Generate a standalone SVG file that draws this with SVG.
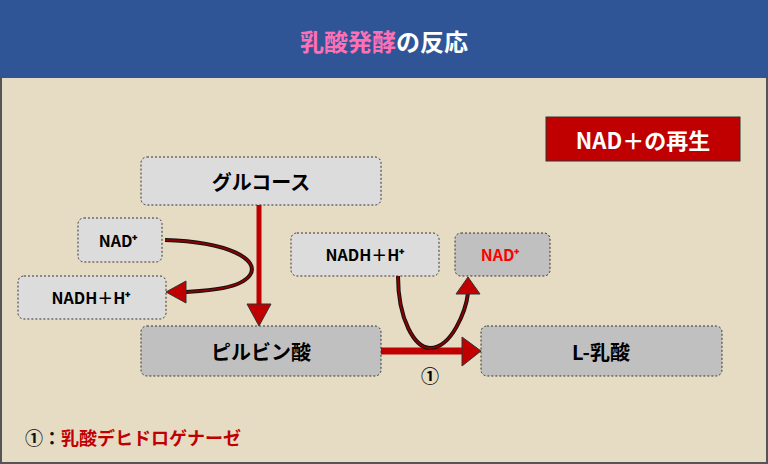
<svg xmlns="http://www.w3.org/2000/svg" width="768" height="464" viewBox="0 0 768 464">
<style>
.n{stroke:#333;stroke-width:1;stroke-dasharray:2 2}
.l{fill:#dcdcdc}.d{fill:#c0c0c0}
text{font-family:"Noto Sans CJK JP","Liberation Sans",sans-serif;font-weight:bold;text-anchor:middle;dominant-baseline:central}
.c{fill:#8b0000;stroke:#111;stroke-width:1}
</style>
<defs>
<marker id="ah" markerWidth="6" markerHeight="6" refX="3" refY="3" orient="auto" markerUnits="userSpaceOnUse" viewBox="0 0 6 6"><path d="M0,0L6,3L0,6Z" fill="#c00000" stroke="#333" stroke-width="0.5"/></marker>
</defs>
<rect width="768" height="464" fill="#e6dcc4"/>
<rect x="1" y="1" width="766" height="462" fill="none" stroke="#555" stroke-width="2"/>
<g id="header"><rect x="0" y="0" width="768" height="78" fill="#2f5597"/>
<text x="384" y="40" font-size="24"><tspan fill="#ff6fb5">乳酸発酵</tspan><tspan fill="#fff">の反応</tspan></text></g>
<g id="regen"><rect x="546" y="117" width="194" height="44" fill="#c00000" stroke="#333"/><text x="643" y="139" font-size="22" fill="#fff">NAD＋の再生</text></g>
<g id="connectors" fill="none">
<line x1="259" y1="205" x2="259" y2="304" stroke="#c00000" stroke-width="5"/>
<path d="M247,304L271,304L259,326Z" fill="#c00000" stroke="#333"/>
<path d="M165,240C230,242 260,260 250,275C240,290 200,291 185,292" stroke="#111" stroke-width="4"/>
<path d="M165,240C230,242 260,260 250,275C240,290 200,291 185,292" stroke="#8b0000" stroke-width="2"/>
<path d="M186,281L186,303L166,292Z" fill="#c00000" stroke="#333"/>
<line x1="381" y1="351" x2="462" y2="351" stroke="#c00000" stroke-width="7"/>
<path d="M462,337L462,366L481,351Z" fill="#c00000" stroke="#333"/>
<path d="M398,276C398,320 415,348 430,348C452,348 466,310 468,293" stroke="#111" stroke-width="4"/>
<path d="M398,276C398,320 415,348 430,348C452,348 466,310 468,293" stroke="#8b0000" stroke-width="2"/>
<path d="M456,294L480,294L468,277Z" fill="#c00000" stroke="#333"/>
</g>
<g id="glucose"><rect class="n l" x="141" y="157" width="240" height="48" rx="6"/><text x="261" y="181" font-size="20">グルコース</text></g>
<g id="nad1"><rect class="n l" x="78" y="218" width="84" height="44" rx="6"/><text x="118" y="240" font-size="16">NAD⁺</text></g>
<g id="nadh1"><rect class="n l" x="18" y="276" width="148" height="43" rx="6"/><text x="91" y="297" font-size="16">NADH＋H⁺</text></g>
<g id="pyruvate"><rect class="n d" x="141" y="326" width="240" height="50" rx="6"/><text x="261" y="351" font-size="20">ピルビン酸</text></g>
<g id="nadh2"><rect class="n l" x="291" y="233" width="148" height="43" rx="6"/><text x="365" y="254" font-size="16">NADH＋H⁺</text></g>
<g id="nad2"><rect class="n d" x="455" y="233" width="95" height="43" rx="6"/><text x="500" y="254" font-size="16" fill="#ff0000">NAD⁺</text></g>
<g id="lactate"><rect class="n d" x="481" y="326" width="241" height="50" rx="6"/><text x="601" y="351" font-size="20">L-乳酸</text></g>
<text x="430" y="375" font-size="18" font-weight="normal">①</text>
<text x="25" y="437" font-size="18" style="text-anchor:start"><tspan fill="#111">①：</tspan><tspan fill="#c00000">乳酸デヒドロゲナーゼ</tspan></text>
</svg>
